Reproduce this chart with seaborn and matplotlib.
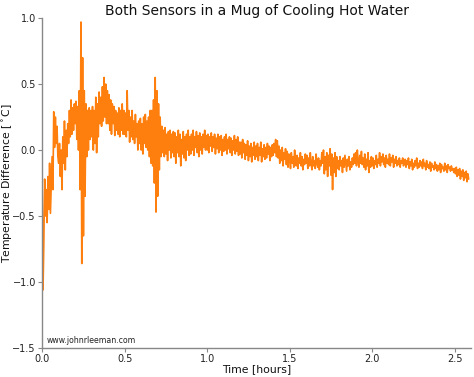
import numpy as np
import pandas as pd
import matplotlib
matplotlib.use("Agg")
import matplotlib.pyplot as plt
import seaborn as sns

# Temperature difference between the two sensors, sampled every 0.005 h
SAMPLE_STEP_H = 0.005
temp_diff = [
    -0.3, -1.06, -0.7, -0.22, -0.5, -0.3, -0.55, -0.2, -0.45, -0.1, -0.48, -0.25, -0.05, -0.3, 0.29, 0.02, 0.25, 0.05, 0.18, -0.05,
    -0.1, 0.05, -0.2, 0.0, -0.3, 0.1, -0.1, 0.22, -0.15, 0.15, -0.05, 0.2, 0.05, 0.3, 0.1, 0.38, 0.12, 0.32, 0.15, 0.35,
    0.2, 0.37, 0.08, 0.33, 0.0, 0.45, -0.3, 0.97, -0.86, 0.7, -0.65, 0.45, -0.35, 0.35, -0.05, 0.3, 0.0, 0.32, 0.08, 0.3,
    0.1, 0.33, 0.0, 0.3, 0.05, 0.4, -0.02, 0.35, 0.1, 0.44, 0.2, 0.4, 0.18, 0.48, 0.22, 0.55, 0.25, 0.5, 0.2, 0.45,
    0.2, 0.42, 0.15, 0.38, 0.12, 0.35, 0.2, 0.33, 0.11, 0.3, 0.15, 0.28, 0.12, 0.32, 0.1, 0.3, 0.15, 0.35, 0.12, 0.3,
    0.12, 0.28, 0.1, 0.45, 0.15, 0.3, 0.06, 0.25, 0.1, 0.3, 0.08, 0.22, 0.05, 0.27, 0.1, 0.2, 0.0, 0.22, 0.05, 0.24,
    0.0, 0.2, -0.03, 0.25, 0.05, 0.27, 0.02, 0.22, 0.0, 0.25, -0.05, 0.3, -0.1, 0.3, -0.12, 0.38, -0.25, 0.55, -0.47, 0.45,
    -0.35, 0.35, -0.15, 0.25, -0.05, 0.18, -0.02, 0.15, -0.05, 0.17, -0.03, 0.12, -0.08, 0.14, 0.0, 0.15, -0.06, 0.12, -0.02, 0.14,
    -0.05, 0.13, -0.1, 0.1, -0.02, 0.15, -0.05, 0.12, -0.12, 0.08, -0.03, 0.14, -0.06, 0.1, -0.08, 0.12, 0.0, 0.15, -0.04, 0.1,
    -0.03, 0.12, 0.0, 0.15, -0.04, 0.1, 0.02, 0.14, -0.02, 0.11, -0.05, 0.13, 0.0, 0.1, -0.03, 0.12, 0.02, 0.15, 0.0, 0.11,
    0.0, 0.12, -0.02, 0.1, 0.03, 0.13, -0.01, 0.1, 0.02, 0.12, -0.03, 0.09, 0.01, 0.12, -0.02, 0.1, 0.0, 0.11, -0.04, 0.08,
    -0.01, 0.1, 0.0, 0.12, -0.03, 0.08, 0.01, 0.1, -0.02, 0.09, -0.04, 0.07, 0.0, 0.11, -0.03, 0.08, -0.01, 0.1, -0.04, 0.06,
    -0.03, 0.06, -0.06, 0.08, -0.02, 0.05, -0.07, 0.04, -0.04, 0.07, -0.08, 0.03, -0.05, 0.05, -0.09, 0.02, -0.04, 0.06, -0.07, 0.03,
    -0.05, 0.05, -0.08, 0.02, -0.04, 0.06, -0.09, 0.01, -0.05, 0.04, -0.07, 0.02, -0.06, 0.05, -0.03, 0.03, -0.08, 0.02, -0.05, 0.04,
    -0.04, 0.05, -0.02, 0.08, -0.05, 0.07, -0.06, 0.03, -0.1, 0.0, -0.08, 0.02, -0.12, -0.02, -0.07, 0.01, -0.11, -0.01, -0.13, -0.03,
    -0.06, -0.14, -0.02, -0.1, -0.05, -0.13, 0.0, -0.09, -0.12, -0.04, -0.14, -0.06, -0.1, -0.02, -0.12, -0.05, -0.15, -0.07, -0.11, -0.03,
    -0.1, -0.04, -0.14, -0.06, -0.12, -0.02, -0.1, -0.15, -0.05, -0.12, -0.08, -0.14, -0.03, -0.1, -0.13, -0.06, -0.15, -0.08, -0.12, -0.02,
    -0.1, 0.0, -0.18, -0.05, -0.15, -0.02, -0.2, -0.04, -0.12, 0.01, -0.19, -0.03, -0.3, -0.06, -0.17, -0.02, -0.2, -0.05, -0.14, -0.08,
    -0.15, -0.05, -0.12, -0.08, -0.17, -0.06, -0.13, -0.04, -0.1, -0.16, -0.07, -0.12, -0.05, -0.15, -0.09, -0.13, -0.06, -0.11, -0.03, -0.1,
    -0.02, -0.12, 0.0, -0.08, -0.13, -0.04, -0.1, -0.01, -0.11, -0.06, -0.13, -0.03, -0.15, -0.07, -0.12, -0.02, -0.17, -0.08, -0.13, -0.05,
    -0.12, -0.06, -0.14, -0.08, -0.11, -0.04, -0.13, -0.07, -0.1, -0.02, -0.12, -0.05, -0.09, -0.03, -0.11, -0.06, -0.13, -0.04, -0.1, -0.07,
    -0.11, -0.03, -0.12, -0.06, -0.09, -0.04, -0.13, -0.07, -0.1, -0.05, -0.12, -0.08, -0.11, -0.06, -0.13, -0.08, -0.1, -0.06, -0.12, -0.09,
    -0.07, -0.13, -0.08, -0.11, -0.06, -0.14, -0.09, -0.12, -0.07, -0.15, -0.1, -0.13, -0.08, -0.12, -0.06, -0.14, -0.1, -0.13, -0.08, -0.12,
    -0.09, -0.14, -0.07, -0.12, -0.1, -0.15, -0.08, -0.13, -0.11, -0.14, -0.09, -0.16, -0.1, -0.13, -0.12, -0.15, -0.09, -0.14, -0.11, -0.16,
    -0.12, -0.15, -0.1, -0.17, -0.11, -0.14, -0.13, -0.16, -0.1, -0.15, -0.12, -0.17, -0.11, -0.14, -0.13, -0.16, -0.12, -0.15, -0.14, -0.17,
    -0.14, -0.18, -0.13, -0.2, -0.15, -0.19, -0.14, -0.22, -0.16, -0.2, -0.15, -0.23, -0.17, -0.21, -0.16, -0.24, -0.18, -0.22,
]
x_ticks = [0.0, 0.5, 1.0, 1.5, 2.0, 2.5]
y_ticks = [-1.5, -1.0, -0.5, 0.0, 0.5, 1.0]

df = pd.DataFrame({"time_h": np.arange(len(temp_diff)) * SAMPLE_STEP_H,
                   "diff": temp_diff})

sns.set_style("ticks")
plt.rcParams["font.family"] = ["DejaVu Sans"]

fig = plt.figure(figsize=(4.74, 3.77), dpi=100)
ax = fig.add_axes([0.089, 0.077, 0.905, 0.875])

sns.lineplot(data=df, x="time_h", y="diff", ax=ax, color="#ff7f0e",
             linewidth=1.2, estimator=None)

ax.set_xlim(0, 2.6)
ax.set_ylim(-1.5, 1.0)
ax.set_xticks(x_ticks)
ax.set_yticks(y_ticks)
ax.set_title("Both Sensors in a Mug of Cooling Hot Water", fontsize=10,
             pad=2, color="#111111")
ax.set_xlabel("Time [hours]", fontsize=7.8, color="#111111")
ax.set_ylabel(r"Temperature Difference [$^\circ$C]", fontsize=7.8,
              color="#111111")
ax.xaxis.set_label_coords(0.5, -0.05)
ax.yaxis.set_label_coords(-0.064, 0.5)

sns.despine(ax=ax)
for side in ["left", "bottom"]:
    ax.spines[side].set_color("#888888")
    ax.spines[side].set_linewidth(1.0)
ax.tick_params(direction="out", length=3, width=0.8, color="#888888",
               labelsize=7, labelcolor="#222222", pad=1.5)

ax.text(0.01, 0.008, "www.johnrleeman.com", transform=ax.transAxes,
        fontsize=5.6, color="#222222", ha="left", va="bottom")

fig.savefig("out.png", dpi=100)
